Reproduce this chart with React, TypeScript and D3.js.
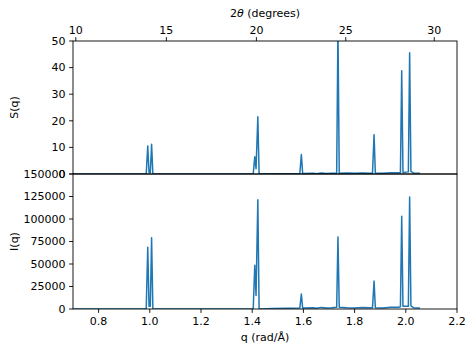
import React from 'react';
import * as d3 from 'd3';

// scattering vector q (rad/Å) with structure factor S(q) and intensity I(q)
const qValues = [
  0.700, 0.986, 0.992, 0.997, 1.002, 1.007, 1.012,
  1.404, 1.410, 1.415, 1.422, 1.427,
  1.480, 1.540, 1.586, 1.592, 1.597,
  1.640, 1.650, 1.670, 1.690, 1.710, 1.730, 1.735, 1.740,
  1.770, 1.800, 1.830, 1.860, 1.870, 1.876, 1.881,
  1.910, 1.940, 1.970, 1.979, 1.984, 1.989,
  2.010, 2.015, 2.020, 2.030, 2.055,
];
const sValues = [
  0, 0, 10.5, 0.5, 0.5, 11.2, 0,
  0, 6.5, 2.0, 21.5, 0,
  0.1, 0.1, 0.2, 7.3, 0.2,
  0.3, 0.1, 0.4, 0.2, 0.3, 0.3, 55, 0.3,
  0.4, 0.3, 0.4, 0.3, 0.3, 14.8, 0.4,
  0.3, 0.5, 0.5, 0.5, 38.8, 0.6,
  0.8, 45.6, 1.0, 0.4, 0.3,
];
const iValues = [
  0, 0, 68500, 3000, 3000, 79200, 0,
  0, 48500, 15000, 121500, 0,
  500, 800, 1000, 16700, 1000,
  1500, 800, 1800, 1200, 1500, 2000, 80000, 2000,
  1500, 1200, 1800, 1500, 1500, 31000, 1500,
  1200, 2000, 2000, 2500, 103000, 3000,
  3000, 124500, 3500, 1500, 1000,
];

const qTicks = [0.8, 1.0, 1.2, 1.4, 1.6, 1.8, 2.0, 2.2];
const sTicks = [0, 10, 20, 30, 40, 50];
const iTicks = [0, 25000, 50000, 75000, 100000, 125000, 150000];
const twoThetaTicks = [10, 15, 20, 25, 30];
const wavelength = 1.5406; // Cu K-alpha, Å

const W = 474, H = 353;
const left = 73, right = 457;
const topY0 = 41, splitY = 174, botY1 = 309;
const blue = '#1f77b4';
const font = 'DejaVu Sans, sans-serif';
const fs = 11;
const tickLen = 3.9;

export default function App() {
  const x = d3.scaleLinear().domain([0.7, 2.2]).range([left, right]);
  const yS = d3.scaleLinear().domain([0, 50]).range([splitY, topY0]);
  const yI = d3.scaleLinear().domain([0, 150000]).range([botY1, splitY]);

  const pts = qValues.map((q, i) => ({ q, s: sValues[i], v: iValues[i] }));
  const lineS = d3.line<any>().x(d => x(d.q)).y(d => yS(d.s))(pts) || '';
  const lineI = d3.line<any>().x(d => x(d.q)).y(d => yI(d.v))(pts) || '';

  const thetaToQ = (t: number) => (4 * Math.PI * Math.sin((t / 2) * Math.PI / 180)) / wavelength;

  const yAxis = (scale: d3.ScaleLinear<number, number>, ticks: number[], key: string) => (
    <g key={key}>
      {ticks.map(t => (
        <g key={t} transform={`translate(0,${scale(t)})`}>
          <line x1={left - tickLen} x2={left} stroke="black" strokeWidth={0.9} />
          <text x={left - tickLen - 3.5} dy="0.35em" textAnchor="end" fontSize={fs} fontFamily={font}>{t}</text>
        </g>
      ))}
    </g>
  );

  return (
    <svg width={W} height={H} style={{ position: 'absolute', left: 0, top: 0, background: 'white' }}>
      <defs>
        <clipPath id="clipTop"><rect x={left} y={topY0} width={right - left} height={splitY - topY0} /></clipPath>
        <clipPath id="clipBot"><rect x={left} y={splitY} width={right - left} height={botY1 - splitY} /></clipPath>
      </defs>

      <path d={lineS} fill="none" stroke={blue} strokeWidth={1.5} strokeLinejoin="round" clipPath="url(#clipTop)" />
      <path d={lineI} fill="none" stroke={blue} strokeWidth={1.5} strokeLinejoin="round" clipPath="url(#clipBot)" />

      {/* frames */}
      <rect x={left} y={topY0} width={right - left} height={splitY - topY0} fill="none" stroke="black" strokeWidth={0.9} />
      <rect x={left} y={splitY} width={right - left} height={botY1 - splitY} fill="none" stroke="black" strokeWidth={0.9} />

      {yAxis(yS, sTicks, 's')}
      {yAxis(yI, iTicks, 'i')}

      {/* bottom q axis */}
      {qTicks.map(t => (
        <g key={t} transform={`translate(${x(t)},${botY1})`}>
          <line y1={0} y2={tickLen} stroke="black" strokeWidth={0.9} />
          <text y={tickLen + 3.5} dy="0.76em" textAnchor="middle" fontSize={fs} fontFamily={font}>{t.toFixed(1)}</text>
        </g>
      ))}

      {/* top 2θ axis */}
      {twoThetaTicks.map(t => (
        <g key={t} transform={`translate(${x(thetaToQ(t))},${topY0})`}>
          <line y1={0} y2={-tickLen} stroke="black" strokeWidth={0.9} />
          <text y={-tickLen - 3.5} textAnchor="middle" fontSize={fs} fontFamily={font}>{t}</text>
        </g>
      ))}

      <text x={(left + right) / 2} y={341} textAnchor="middle" fontSize={fs} fontFamily={font}>q (rad/Å)</text>
      <text x={(left + right) / 2} y={17} textAnchor="middle" fontSize={fs} fontFamily={font}>
        2<tspan fontStyle="italic">θ</tspan> (degrees)
      </text>
      <text transform={`translate(18,${(topY0 + splitY) / 2}) rotate(-90)`} textAnchor="middle" fontSize={fs} fontFamily={font}>S(q)</text>
      <text transform={`translate(18,${(splitY + botY1) / 2}) rotate(-90)`} textAnchor="middle" fontSize={fs} fontFamily={font}>I(q)</text>
    </svg>
  );
}
